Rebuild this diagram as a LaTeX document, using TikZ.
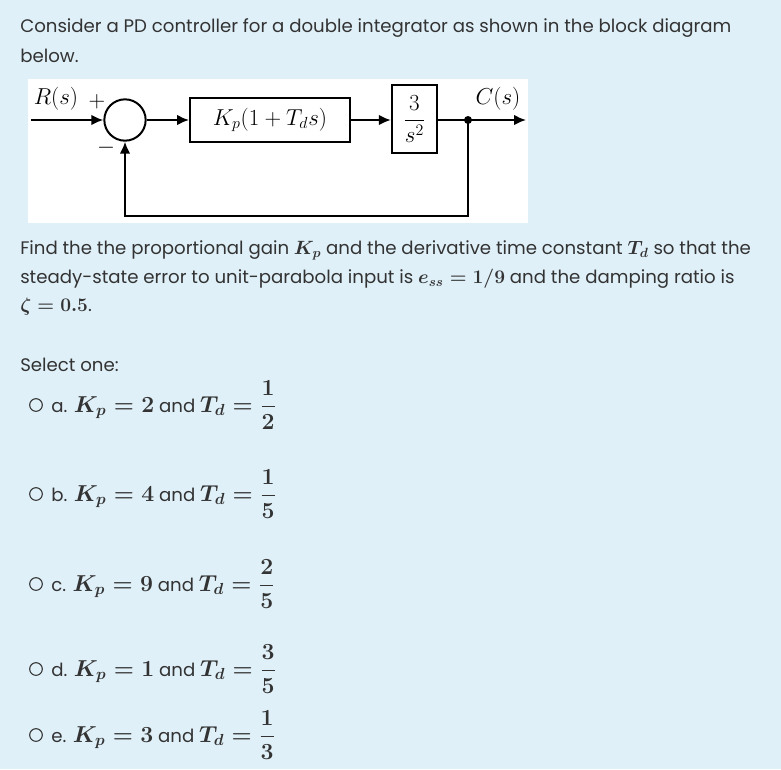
\documentclass[tikz,border=0pt]{standalone}
\usepackage{amsmath}
\usepackage{fontspec}
\setmainfont{Poppins}[Scale=0.92]
\usetikzlibrary{arrows.meta}
\definecolor{bg}{HTML}{DFF0F8}
\definecolor{txt}{HTML}{333333}
\tikzset{
 tx/.style={anchor=west,text=txt,inner sep=0pt,font=\fontsize{14.8}{17}\selectfont},
 blk/.style={draw,line width=1.5pt,minimum height=0pt,inner sep=0pt},
 sig/.style={line width=1.5pt,-{Latex[length=9pt,width=8pt]}},
 ln/.style={line width=1.5pt},
 radio/.style={circle,draw=txt,line width=0.8pt,minimum size=9.5pt,inner sep=0pt},
 dl/.style={font=\fontsize{17}{19}\selectfont}
}
\newcommand{\bm}[1]{\text{\boldmath$#1$}}
\newcommand{\bmm}[1]{{\fontsize{16.5}{18}\selectfont\boldmath$#1$}}
\begin{document}
\begin{tikzpicture}[x=0.75pt,y=-0.75pt]
\useasboundingbox[fill=bg] (0,0) rectangle (781,769);
\node[tx] (t1) at (20,28) {Consider a PD controller for a double integrator as shown in the block diagram};
\node[tx] (t2) at (20,56) {below.};
\fill[white] (28,79) rectangle (528,223);
% block diagram
\node[circle,draw,line width=1.5pt,minimum size=31pt,inner sep=0pt] (sum) at (125,120) {};
\node[blk,minimum width=120pt,minimum height=33pt,dl] (kp) at (270,120) {$K_p(1+T_d s)$};
\node[blk,minimum width=34pt,minimum height=51pt,dl] (g) at (414.5,119) {$\dfrac{3}{s^2}$};
\coordinate (in) at (31,120);
\coordinate (j) at (468,120);
\coordinate (out) at (526,120);
\coordinate (fb) at (468,216);
\coordinate (fb2) at (125,216);
\draw[sig] (in) -- (sum.west);
\draw[sig] (sum.east) -- (kp.west);
\draw[sig] (kp.east) -- (g.west|-kp.east);
\draw[ln] (g.east|-j) -- (j);
\draw[sig] (j) -- (out);
\fill (j) circle (3pt);
\draw[sig] (j) -- (fb) -- (fb2) -- (sum.south);
\node[dl] (r) at (56,99) {$R(s)$};
\node[font=\fontsize{16}{18}\selectfont] (p) at (97,102) {$+$};
\node[font=\fontsize{16}{18}\selectfont] (m) at (106,148) {$-$};
\node[dl] (c) at (498,99) {$C(s)$};
% question
\node[tx] (q1) at (20,250) {Find the the proportional gain \bm{K_p} and the derivative time constant \bm{T_d} so that the};
\node[tx] (q2) at (20,279) {steady-state error to unit-parabola input is \bm{e_{ss}=1/9} and the damping ratio is};
\node[tx] (q3) at (20,307) {\bm{\zeta=0.5}.};
\node[tx] (sel) at (20,365) {Select one:};
\foreach \y/\l/\k/\n/\d [count=\i] in {405/a/2/1/2, 494/b/4/1/5, 584/c/9/2/5, 669/d/1/3/5, 735/e/3/1/3}{
 \node[radio] (r\i) at (36,\y) {};
 \node[tx] (o\i) at (51,\y) {\l. \bmm{K_p=\k} and \bmm{T_d=\dfrac{\n}{\d}}};
}
\end{tikzpicture}
\end{document}
